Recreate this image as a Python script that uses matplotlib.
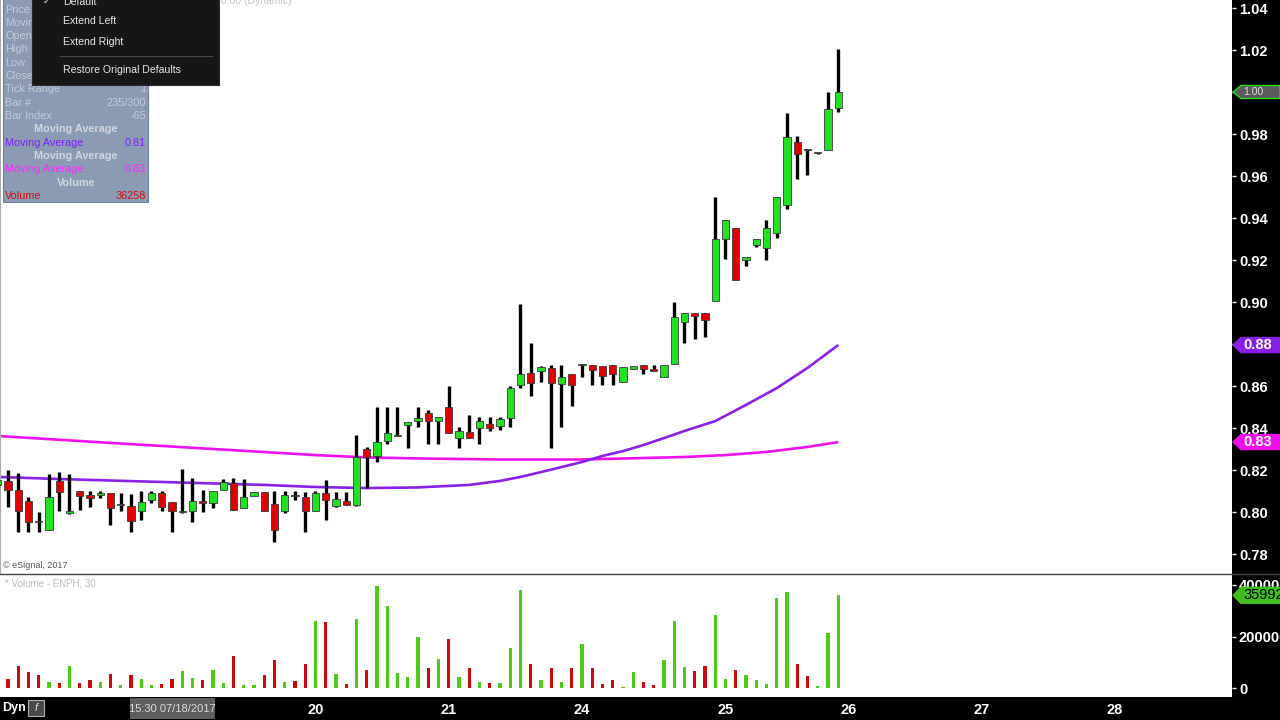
import matplotlib
matplotlib.use('Agg')
import matplotlib.pyplot as plt
from matplotlib.patches import Rectangle, Polygon
from matplotlib.lines import Line2D
import matplotlib.transforms as mtransforms

plt.rcParams['font.family'] = ['Liberation Sans', 'DejaVu Sans']

# ---------------- data (30-minute bars, ENPH) ----------------
bar_index = list(range(-1, 82))
opens = [0.8129, 0.8148, 0.8105, 0.8052, 0.7957, 0.7914, 0.8148, 0.7995, 0.8100, 0.8081,
         0.8081, 0.8090, 0.8033, 0.8029, 0.8005, 0.8057, 0.8090, 0.8048, 0.7998, 0.8005,
         0.8052, 0.8043, 0.8105, 0.8138, 0.8019, 0.8076, 0.8095, 0.8038, 0.8005, 0.8081,
         0.8071, 0.8005, 0.8090, 0.8029, 0.8052, 0.8033, 0.8300, 0.8267, 0.8338, 0.8362,
         0.8414, 0.8433, 0.8471, 0.8433, 0.8500, 0.8352, 0.8381, 0.8400, 0.8419, 0.8410,
         0.8448, 0.8605, 0.8662, 0.8671, 0.8686, 0.8610, 0.8657, 0.8700, 0.8700, 0.8695,
         0.8700, 0.8619, 0.8681, 0.8700, 0.8681, 0.8643, 0.8705, 0.8905, 0.8948, 0.8948,
         0.9005, 0.9300, 0.9352, 0.9200, 0.9271, 0.9257, 0.9329, 0.9462, 0.9762, 0.9729,
         0.9710, 0.9724, 0.9924]
highs = [0.8152, 0.8200, 0.8186, 0.8071, 0.8000, 0.8181, 0.8190, 0.8181, 0.8100, 0.8100,
         0.8100, 0.8090, 0.8090, 0.8086, 0.8100, 0.8100, 0.8100, 0.8048, 0.8205, 0.8162,
         0.8105, 0.8100, 0.8157, 0.8162, 0.8157, 0.8095, 0.8095, 0.8100, 0.8100, 0.8100,
         0.8095, 0.8100, 0.8152, 0.8095, 0.8095, 0.8367, 0.8310, 0.8500, 0.8500, 0.8500,
         0.8429, 0.8500, 0.8486, 0.8452, 0.8600, 0.8405, 0.8462, 0.8452, 0.8452, 0.8452,
         0.8600, 0.8990, 0.8805, 0.8695, 0.8700, 0.8700, 0.8657, 0.8705, 0.8700, 0.8695,
         0.8700, 0.8690, 0.8695, 0.8700, 0.8700, 0.8700, 0.9000, 0.8948, 0.8948, 0.8948,
         0.9500, 0.9390, 0.9352, 0.9214, 0.9300, 0.9390, 0.9500, 0.9900, 0.9790, 0.9729,
         0.9714, 1.0000, 1.0205]
lows = [0.8129, 0.8024, 0.7905, 0.7905, 0.7905, 0.7914, 0.8005, 0.7990, 0.8010, 0.8024,
        0.8067, 0.7938, 0.8005, 0.7905, 0.7962, 0.8043, 0.8005, 0.7905, 0.7995, 0.7952,
        0.8000, 0.8019, 0.8105, 0.8010, 0.8019, 0.8076, 0.8005, 0.7857, 0.7995, 0.8057,
        0.7905, 0.8005, 0.7962, 0.8024, 0.8033, 0.8029, 0.8114, 0.8238, 0.8324, 0.8362,
        0.8305, 0.8405, 0.8324, 0.8324, 0.8376, 0.8305, 0.8352, 0.8324, 0.8386, 0.8390,
        0.8405, 0.8590, 0.8552, 0.8619, 0.8305, 0.8405, 0.8505, 0.8643, 0.8605, 0.8605,
        0.8605, 0.8619, 0.8681, 0.8657, 0.8671, 0.8643, 0.8705, 0.8805, 0.8824, 0.8833,
        0.9005, 0.9205, 0.9105, 0.9171, 0.9262, 0.9200, 0.9305, 0.9443, 0.9586, 0.9605,
        0.9705, 0.9724, 0.9905]
closes = [0.8152, 0.8105, 0.8005, 0.7952, 0.7952, 0.8071, 0.8095, 0.8005, 0.8076, 0.8067,
          0.8090, 0.8019, 0.8038, 0.7957, 0.8048, 0.8090, 0.8024, 0.8005, 0.8002, 0.8052,
          0.8043, 0.8100, 0.8143, 0.8010, 0.8071, 0.8095, 0.8005, 0.7914, 0.8081, 0.8076,
          0.8005, 0.8090, 0.8057, 0.8062, 0.8033, 0.8262, 0.8262, 0.8333, 0.8376, 0.8367,
          0.8429, 0.8448, 0.8433, 0.8452, 0.8376, 0.8386, 0.8352, 0.8433, 0.8400, 0.8443,
          0.8590, 0.8657, 0.8614, 0.8690, 0.8614, 0.8643, 0.8605, 0.8705, 0.8676, 0.8648,
          0.8657, 0.8690, 0.8695, 0.8681, 0.8671, 0.8700, 0.8929, 0.8948, 0.8933, 0.8914,
          0.9300, 0.9390, 0.9105, 0.9214, 0.9300, 0.9352, 0.9500, 0.9786, 0.9705, 0.9724,
          0.9714, 0.9919, 1.0000]
volumes = [30000,
           36000, 86000, 61000, 52000, 25000, 21000, 86000, 19000, 32000, 22000,
           53000, 10000, 50000, 36000, 10000, 14000, 35000, 66000, 37000, 32000,
           68000, 21000, 123000, 12000, 12000, 50000, 110000, 25000, 27000, 94000,
           259000, 257000, 55000, 14000, 267000, 68000, 396000, 319000, 58000, 43000,
           200000, 79000, 112000, 190000, 43000, 76000, 22000, 19000, 21000, 156000,
           381000, 92000, 32000, 76000, 22000, 76000, 169000, 76000, 17000, 30000,
           5000, 63000, 22000, 12000, 110000, 262000, 81000, 66000, 86000, 285000,
           35000, 71000, 52000, 30000, 14000, 351000, 373000, 92000, 45000, 9000,
           215000, 359920]

ma1_index = [-1, 5, 10, 15, 20, 25, 30, 35, 40, 45, 48, 50, 52, 54, 56, 58, 60, 62, 64, 66, 69, 72, 75, 78, 81]
ma1_values = [0.8167, 0.8157, 0.8150, 0.8143, 0.8136, 0.8129, 0.8119, 0.8114, 0.8117, 0.8129,
              0.8148, 0.8167, 0.8190, 0.8214, 0.8238, 0.8267, 0.8290, 0.8319, 0.8352, 0.8386,
              0.8433, 0.8510, 0.8590, 0.8686, 0.8795]
ma2_index = [-1, 10, 20, 30, 35, 40, 48, 56, 62, 66, 70, 74, 78, 81]
ma2_values = [0.8362, 0.8329, 0.8300, 0.8271, 0.8260, 0.8255, 0.8250, 0.8250, 0.8257, 0.8262,
              0.8271, 0.8286, 0.8310, 0.8333]

price_ticks = [0.78, 0.80, 0.82, 0.84, 0.86, 0.88, 0.90, 0.92, 0.94, 0.96, 0.98, 1.00, 1.02, 1.04]
hidden_price_ticks = [0.88, 1.00]   # covered by the value markers
volume_ticks = [0, 200000, 400000]
day_labels = ['20', '21', '24', '25', '26', '27', '28']
day_positions = [30, 43, 56, 70, 82, 95, 108]

# ---------------- figure ----------------
W, H = 1280, 720
fig = plt.figure(figsize=(12.8, 7.2), dpi=100)
fig.patch.set_facecolor('white')


def fx(px):
    return px / W


def fy(py):
    return 1 - py / H


GREEN = '#22e022'
RED = '#e00000'
VGREEN = '#4ccc14'
VRED = '#cc0a0a'
PURPLE = '#8a1fe6'
MAGENTA = '#ee10ee'

# black axis strips
fig.patches.append(Rectangle((fx(1232), 0), 1 - fx(1232), 1, transform=fig.transFigure,
                             facecolor='black', edgecolor='none', zorder=-5))
fig.patches.append(Rectangle((0, 0), 1, fy(697), transform=fig.transFigure,
                             facecolor='black', edgecolor='none', zorder=-5))

ax = fig.add_axes([0, fy(573), fx(1232), fy(0) - fy(573)])
axv = fig.add_axes([0, fy(697), fx(1232), fy(575) - fy(697)])

xmin = -0.78
xmax = xmin + 1232 / 10.25

# ---- price panel ----
up = [c >= o for o, c in zip(opens, closes)]
ax.plot(ma2_index, ma2_values, color=MAGENTA, lw=1.9, zorder=1, solid_capstyle='butt')
ax.plot(ma1_index, ma1_values, color=PURPLE, lw=1.9, zorder=1, solid_capstyle='butt')
ax.vlines(bar_index, lows, highs, color='black', lw=2.4, zorder=2)
body_bottom = [min(o, c) for o, c in zip(opens, closes)]
body_height = [max(abs(c - o), 0.0006) for o, c in zip(opens, closes)]
ax.bar(bar_index, body_height, bottom=body_bottom, width=0.72,
       color=[GREEN if u else RED for u in up], edgecolor='#3a3a3a', linewidth=0.6, zorder=3)

ax.set_xlim(xmin, xmax)
ax.set_ylim(1.04381 - 573 / 2100, 1.04381)
ax.set_xticks([])
ax.yaxis.tick_right()
ax.set_yticks(price_ticks)
ax.set_yticklabels(['' if any(abs(t - h) < 1e-9 for h in hidden_price_ticks) else '%.2f' % t
                    for t in price_ticks], fontweight='bold')
ax.tick_params(axis='y', colors='white', labelcolor='white', labelsize=10.5, length=3,
               width=1, pad=2)
for s in ['top', 'right', 'bottom']:
    ax.spines[s].set_visible(False)
ax.spines['left'].set_color('#aaaaaa')
ax.set_facecolor('white')

# ---- volume panel ----
axv.bar(bar_index, volumes, width=0.33, color=[VGREEN if u else VRED for u in up], zorder=2)
axv.set_xlim(xmin, xmax)
axv.set_ylim(-9 * 200000 / 51.5, 113 * 200000 / 51.5)
axv.yaxis.tick_right()
axv.set_yticks(volume_ticks)
axv.set_yticklabels([str(t) for t in volume_ticks], fontweight='bold')
axv.tick_params(axis='y', colors='white', labelcolor='white', labelsize=10.5, length=3,
                width=1, pad=2)
axv.set_xticks(day_positions)
axv.set_xticklabels(day_labels, fontweight='bold')
axv.tick_params(axis='x', colors='white', labelcolor='white', labelsize=10.5, length=0, pad=4)
for s in ['top', 'right', 'bottom', 'left']:
    axv.spines[s].set_visible(False)
axv.set_facecolor('white')

# separator between panels
fig.add_artist(Line2D([0, 1], [fy(573.5), fy(573.5)], transform=fig.transFigure,
                      color='#444444', lw=1.0, zorder=4))

# ---- right-axis value markers ----
bt = mtransforms.blended_transform_factory(fig.transFigure, ax.transData)
hh = 7.5 / 2100


def marker(val, face, edge, txt, tcolor, weight, size, transform, half):
    pts = [(fx(1233), val), (fx(1241), val + half), (1.0, val + half),
           (1.0, val - half), (fx(1241), val - half)]
    fig.add_artist(Polygon(pts, closed=True, transform=transform, facecolor=face,
                           edgecolor=edge, lw=1, zorder=6))
    fig.text(fx(1243), val, txt, transform=transform, color=tcolor, fontsize=size,
             fontweight=weight, va='center', ha='left', zorder=7)


marker(closes[-1], '#5a5a5a', '#22dd22', '%.2f' % closes[-1], '#dddddd', 'normal', 7.5, bt, 6.5 / 2100)
marker(ma1_values[-1], PURPLE, PURPLE, '%.2f' % ma1_values[-1], 'white', 'bold', 10.5, bt, hh)
marker(ma2_values[-1], MAGENTA, MAGENTA, '%.2f' % ma2_values[-1], 'white', 'bold', 10.5, bt, hh)
btv = mtransforms.blended_transform_factory(fig.transFigure, axv.transData)
marker(volumes[-1], '#3fbf1f', '#3fbf1f', str(volumes[-1]), 'black', 'normal', 10.5, btv,
       8 * 200000 / 51.5)


def ptext(x, y, s, **kw):
    kw.setdefault('va', 'center')
    fig.text(fx(x), fy(y), s, **kw)


# ---- captions ----
ptext(3, 566, '\u00a9 eSignal, 2017', color='#555555', fontsize=6.5, zorder=6)
ptext(5, 583, '* Volume - ENPH, 30', color='#bbbbbb', fontsize=7, zorder=6)
ptext(221, 1, '0.00 (Dynamic)', color='#c4c4c4', fontsize=7.5, zorder=6)

# ---- bottom strip items ----
ptext(2, 708, 'Dyn', color='white', fontsize=9, fontweight='bold', zorder=6)
fig.add_artist(Rectangle((fx(28), fy(716)), fx(16), 16 / H, transform=fig.transFigure,
                         facecolor='#4a4a4a', edgecolor='#b0b0b0', lw=0.8, zorder=6))
ptext(36, 708, 'f', color='#dddddd', fontsize=8, ha='center', fontstyle='italic', zorder=7)
fig.add_artist(Rectangle((fx(130), fy(719)), fx(85), 21 / H, transform=fig.transFigure,
                         facecolor='#5e5e5e', edgecolor='none', zorder=6))
ptext(172.5, 708.5, '15:30 07/18/2017', color='#dddddd', fontsize=8, ha='center', zorder=7)

# ---- data window (cursor info) ----
fig.add_artist(Rectangle((fx(3), fy(202)), fx(145), 202 / H + 0.01, transform=fig.transFigure,
                         facecolor='#8b9bb4', edgecolor='#6f7f99', lw=0.8, zorder=6))
LAB = '#c2cad8'
HEAD = '#d0d6e0'
rows = [(10, 'Price', None, LAB), (23, 'Moving', None, LAB), (36, 'Open', None, LAB),
        (49, 'High', None, LAB), (63, 'Low', None, LAB), (76, 'Close', None, LAB),
        (89, 'Tick Range', '1', LAB), (103, 'Bar #', '235/300', LAB),
        (116, 'Bar Index', '-65', LAB),
        (143, 'Moving Average', '0.81', '#7f1fff'), (169, 'Moving Average', '0.83', '#ff28ff'),
        (196, 'Volume', '36258', '#cc1010')]
for y, lab, val, col in rows:
    ptext(5, y, lab, color=col, fontsize=7.8, zorder=7)
    if val is not None:
        ptext(146, y, val, color=col, fontsize=7.8, ha='right', zorder=7)
for y, lab in [(129, 'Moving Average'), (156, 'Moving Average'), (183, 'Volume')]:
    ptext(76, y, lab, color=HEAD, fontsize=7.8, fontweight='bold', ha='center', zorder=7)

# ---- context menu ----
fig.add_artist(Rectangle((fx(32), fy(85)), fx(187), 85 / H + 0.01, transform=fig.transFigure,
                         facecolor='#171717', edgecolor='#2a2a2a', lw=0.8, zorder=8))
MENU = '#e6e6e6'
ptext(43, 1, '\u2713', color=MENU, fontsize=6.5, zorder=9)
ptext(63, 2, 'Default', color=MENU, fontsize=7.6, zorder=9)
ptext(63, 21, 'Extend Left', color=MENU, fontsize=7.6, zorder=9)
ptext(63, 42, 'Extend Right', color=MENU, fontsize=7.6, zorder=9)
fig.add_artist(Line2D([fx(60), fx(212)], [fy(56), fy(56)], transform=fig.transFigure,
                      color='#4a4a4a', lw=0.8, zorder=9))
ptext(63, 70, 'Restore Original Defaults', color=MENU, fontsize=7.6, zorder=9)

fig.savefig('out.png', dpi=100, facecolor='white')
